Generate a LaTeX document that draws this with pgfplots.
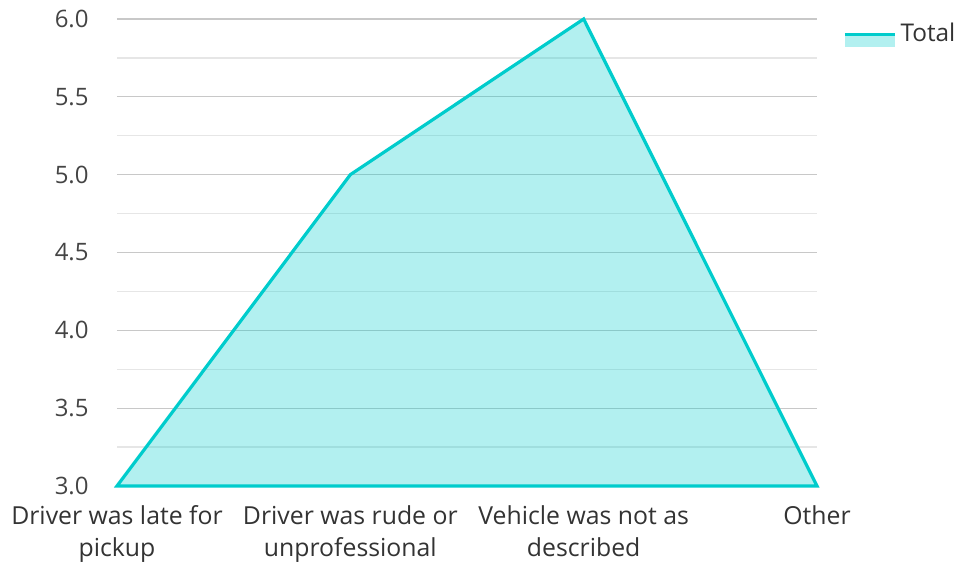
\documentclass[border=0pt]{standalone}
\usepackage{fontspec}
\setmainfont{Open Sans}
\usepackage{pgfplots}
\pgfplotsset{compat=1.18}
\definecolor{lineC}{RGB}{0,204,204}
\definecolor{majG}{RGB}{200,200,200}
\definecolor{minG}{RGB}{230,230,230}
\definecolor{ylab}{RGB}{68,68,68}
\definecolor{xlab}{RGB}{51,51,51}
\begin{document}
\begin{tikzpicture}
\useasboundingbox (-58.5pt,-38pt) rectangle (420.5pt,243pt);
\begin{axis}[
  scale only axis,
  width=350pt, height=233.5pt,
  xmin=0, xmax=3, ymin=3, ymax=6,
  axis line style={draw=none},
  tick style={draw=none},
  xtick={0,1,2,3},
  xticklabels={{Driver was late for\\pickup},{Driver was rude or\\unprofessional},{Vehicle was not as\\described},{Other}},
  xticklabel style={align=center, anchor=north, inner sep=0pt, yshift=-9.5pt, font=\fontsize{12.4}{16}\selectfont, text=xlab},
  ytick={3,3.5,4,4.5,5,5.5,6},
  minor ytick={3.25,3.75,4.25,4.75,5.25,5.75},
  yticklabel style={anchor=east, inner sep=0pt, xshift=-14pt, font=\fontsize{12}{15}\selectfont, text=ylab},
  /pgf/number format/.cd, fixed, fixed zerofill, precision=1, assume math mode=true, /pgfplots/.cd,
  ymajorgrids, yminorgrids,
  major grid style={draw=majG, line width=0.6pt},
  minor grid style={draw=minG, line width=0.6pt},
  legend style={at={(rel axis cs:1.037,1.0)}, anchor=north west, draw=none, fill=none, inner sep=0pt, font=\fontsize{12.2}{15}\selectfont, text=xlab, legend cell align=left},
  clip=false,
]
\addplot[draw=lineC, line width=1.6pt, fill=lineC, fill opacity=0.3, draw opacity=1, line join=miter, forget plot] coordinates {(0,3) (1,5) (2,6) (3,3)} \closedcycle;
\addlegendimage{legend image code/.code={
    \path[fill=lineC, fill opacity=0.3, draw=none] (0pt,-6.5pt) rectangle (25pt,0pt);
    \path[draw=lineC, line width=1.6pt, fill=none] (0pt,0pt) -- (25pt,0pt);
  }}
\addlegendentry{Total}
\end{axis}
\end{tikzpicture}
\end{document}
